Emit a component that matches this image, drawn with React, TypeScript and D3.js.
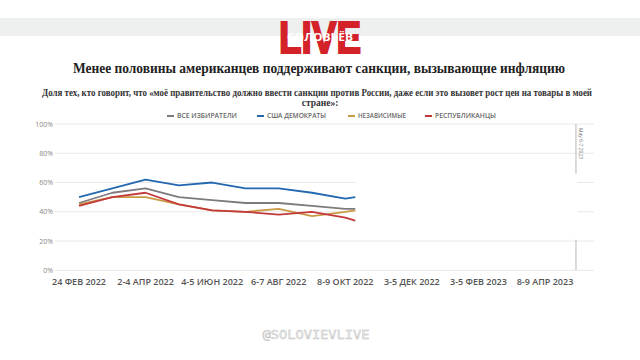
import React, { useEffect, useRef } from 'react';
import * as d3 from 'd3';

// slots are roughly one month apart, the last point is a later October poll
const slots = [0, 1, 2, 3, 4, 5, 6, 7, 8, 8.3];
const allVoters = [46, 53, 56, 50, 48, 46, 46, 44, 42, 42];
const democrats = [50, 56, 62, 58, 60, 56, 56, 53, 49, 50];
const independents = [45, 50, 50, 45, 41, 40, 42, 37, 40, 41];
const republicans = [44, 50, 53, 45, 41, 40, 38, 40, 36, 34];

const tickSlots = [0, 2, 4, 6, 8, 10, 12, 14];
const tickLabels = ['24 ФЕВ 2022', '2-4 АПР 2022', '4-5 ИЮН 2022', '6-7 АВГ 2022', '8-9 ОКТ 2022', '3-5 ДЕК 2022', '3-5 ФЕВ 2023', '8-9 АПР 2023'];
const yTicks = [0, 20, 40, 60, 80, 100];

const seriesNames = ['ВСЕ ИЗБИРАТЕЛИ', 'США ДЕМОКРАТЫ', 'НЕЗАВИСИМЫЕ', 'РЕСПУБЛИКАНЦЫ'];
const seriesColors = ['#7e7a80', '#2468b0', '#c99a45', '#c4393c'];
const markerSlot = 14.93;
const markerLabel = 'May 6-7 2023';

const App = () => {
  const svgRef = useRef(null);

  useEffect(() => {
    const svg = d3.select(svgRef.current);
    svg.selectAll('*').remove();

    const x = d3.scaleLinear().domain([0, 14]).range([79, 545]);
    const y = d3.scaleLinear().domain([0, 100]).range([270.3, 124]);

    // header band + logo
    svg.append('rect').attr('x', 0).attr('y', 18).attr('width', 640).attr('height', 18).attr('fill', '#eef0f0');
    svg.append('text').attr('x', 320).attr('y', 53).attr('text-anchor', 'middle')
      .attr('font-family', 'Liberation Sans').attr('font-weight', 'bold').attr('font-size', 45)
      .attr('textLength', 82).attr('lengthAdjust', 'spacingAndGlyphs')
      .attr('fill', '#d42229').attr('stroke', '#d42229').attr('stroke-width', 2).text('LIVE');
    svg.append('text').attr('x', 320).attr('y', 41).attr('text-anchor', 'middle')
      .attr('font-family', 'Open Sans').attr('font-weight', 'bold').attr('font-size', 11)
      .attr('textLength', 66).attr('lengthAdjust', 'spacingAndGlyphs')
      .attr('fill', '#fff').text('СОЛОВЬЁВ');

    // title
    svg.append('text').attr('x', 319).attr('y', 73).attr('text-anchor', 'middle')
      .attr('font-family', 'Liberation Serif').attr('font-weight', 'bold').attr('font-size', 15)
      .attr('textLength', 492).attr('lengthAdjust', 'spacingAndGlyphs')
      .attr('fill', '#222').text('Менее половины американцев поддерживают санкции, вызывающие инфляцию');
    svg.append('text').attr('x', 317).attr('y', 96).attr('text-anchor', 'middle')
      .attr('font-family', 'Liberation Serif').attr('font-weight', 'bold').attr('font-size', 9.5)
      .attr('textLength', 550).attr('lengthAdjust', 'spacingAndGlyphs')
      .attr('fill', '#333').text('Доля тех, кто говорит, что «моё правительство должно ввести санкции против России, даже если это вызовет рост цен на товары в моей');
    svg.append('text').attr('x', 320).attr('y', 106).attr('text-anchor', 'middle')
      .attr('font-family', 'Liberation Serif').attr('font-weight', 'bold').attr('font-size', 9.5)
      .attr('fill', '#333').text('стране»:');

    // legend
    const legendX = [167, 257, 348, 425];
    const legendW = [60, 59, 48, 61];
    seriesNames.forEach((name, i) => {
      svg.append('line').attr('x1', legendX[i]).attr('x2', legendX[i] + 7).attr('y1', 116).attr('y2', 116)
        .attr('stroke', seriesColors[i]).attr('stroke-width', 2);
      svg.append('text').attr('x', legendX[i] + 10).attr('y', 118.3)
        .attr('font-family', 'Open Sans').attr('font-weight', 600).attr('font-size', 6.5)
        .attr('textLength', legendW[i]).attr('lengthAdjust', 'spacingAndGlyphs')
        .attr('fill', '#666').text(name);
    });

    // grid
    const grid = svg.append('g');
    yTicks.forEach((t) => {
      grid.append('line').attr('x1', 55).attr('x2', 594).attr('y1', y(t)).attr('y2', y(t))
        .attr('stroke', '#e9e9e9').attr('stroke-width', 1);
      grid.append('text').attr('x', 53).attr('y', y(t) + 2.5).attr('text-anchor', 'end')
        .attr('font-family', 'Open Sans').attr('font-size', 7).attr('fill', '#888').text(t + '%');
    });

    // marker line for the next poll
    svg.append('line').attr('x1', x(markerSlot)).attr('x2', x(markerSlot)).attr('y1', y(100)).attr('y2', y(0))
      .attr('stroke', '#cfcfcf').attr('stroke-width', 1.5);
    svg.append('text')
      .attr('transform', `translate(${x(markerSlot) + 3},${y(100) + 4}) rotate(90)`)
      .attr('font-family', 'Open Sans').attr('font-size', 5).attr('fill', '#777').text(markerLabel);

    // cover for the unfinished part of the chart
    svg.append('rect').attr('x', x(slots[slots.length - 1]) + 1).attr('y', y(66))
      .attr('width', x(markerSlot) + 1.5 - x(slots[slots.length - 1]) - 1).attr('height', y(21) - y(66))
      .attr('fill', '#fff');

    // x axis labels
    tickSlots.forEach((s, i) => {
      svg.append('text').attr('x', x(s)).attr('y', 285).attr('text-anchor', 'middle')
        .attr('font-family', 'Open Sans').attr('font-weight', 600).attr('font-size', 9)
        .attr('fill', '#555').text(tickLabels[i]);
    });

    // lines
    const line = d3.line().x((d) => x(d[0])).y((d) => y(d[1]));
    [allVoters, democrats, independents, republicans].forEach((vals, i) => {
      svg.append('path').datum(vals.map((v, j) => [slots[j], v]))
        .attr('d', line).attr('fill', 'none')
        .attr('stroke', seriesColors[i]).attr('stroke-width', 1.8).attr('stroke-linejoin', 'round');
    });

    // watermark
    svg.append('text').attr('x', 316).attr('y', 339).attr('text-anchor', 'middle')
      .attr('font-family', 'DejaVu Sans Mono').attr('font-size', 13)
      .attr('textLength', 107).attr('lengthAdjust', 'spacingAndGlyphs')
      .attr('fill', '#f6f6f6').attr('stroke', '#bdbdbd').attr('stroke-width', 0.5).text('@SOLOVIEVLIVE');
  }, []);

  return (
    <div>
      <svg ref={svgRef} width={640} height={360} style={{ position: 'absolute', left: 0, top: 0, background: '#fff' }}></svg>
    </div>
  );
};

export default App;
